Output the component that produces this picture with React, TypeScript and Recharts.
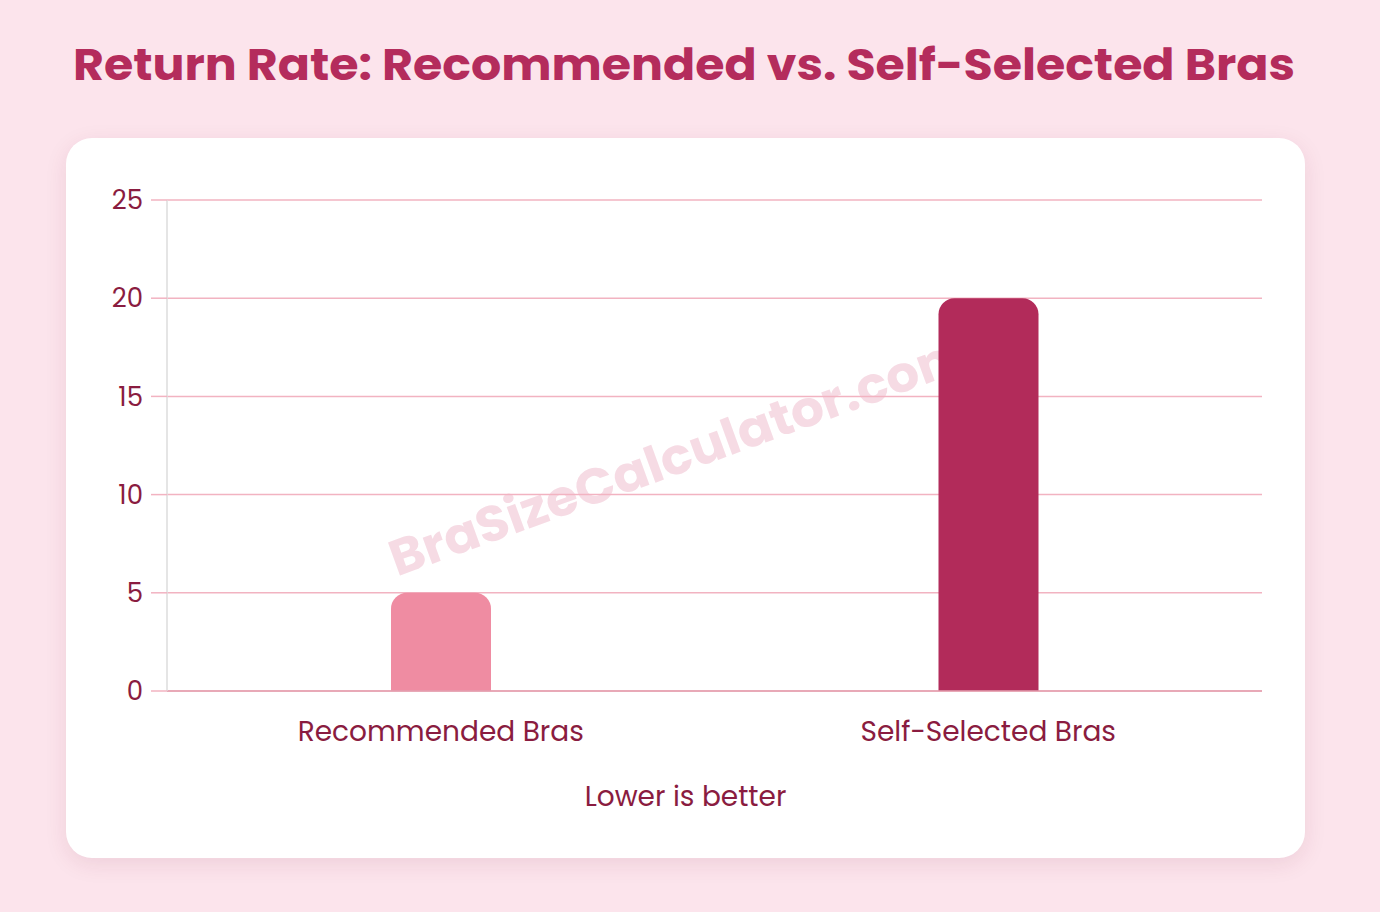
import React from "react";
import { BarChart, Bar, XAxis, YAxis, CartesianGrid, Cell, Label } from "recharts";

const categories = ["Recommended Bras", "Self-Selected Bras"];
const returnRates = [5, 20];
const yTicks = [0, 5, 10, 15, 20, 25];

const TITLE = "Return Rate: Recommended vs. Self-Selected Bras";
const X_TITLE = "Lower is better";
const WATERMARK = "BraSizeCalculator.com";

const BAR_COLORS = ["#ef8ca2", "#b22b5a"];
const FONT = "Poppins, 'Open Sans', 'Noto Sans', sans-serif";
const TEXT_COLOR = "#8a1c40";

const data = categories.map((name, i) => ({ name, value: returnRates[i] }));

export default function App() {
  return (
    <div
      style={{
        position: "absolute",
        left: 0,
        top: 0,
        width: 1380,
        height: 912,
        background: "#fce4ec",
        fontFamily: FONT,
        overflow: "hidden",
      }}
    >
      <svg width={1380} height={120} style={{ position: "absolute", left: 0, top: 0 }}>
        <text
          x={684}
          y={80}
          textAnchor="middle"
          fontSize={44}
          fontWeight={700}
          fill="#b42c5c"
          fontFamily={FONT}
          textLength={1222}
          lengthAdjust="spacingAndGlyphs"
        >
          {TITLE}
        </text>
      </svg>
      <div
        style={{
          position: "absolute",
          left: 66,
          top: 138,
          width: 1239,
          height: 720,
          background: "#ffffff",
          borderRadius: 26,
          boxShadow: "0 6px 22px rgba(120, 30, 60, 0.10)",
        }}
      >
        <svg width={1239} height={720} style={{ position: "absolute", left: 0, top: 0 }}>
          <text
            x={614}
            y={317}
            textAnchor="middle"
            dominantBaseline="central"
            fontSize={50}
            fontWeight={700}
            fill="#f6dbe4"
            fontFamily={FONT}
            textLength={615}
            lengthAdjust="spacingAndGlyphs"
            transform="rotate(-20 614 317)"
          >
            {WATERMARK}
          </text>
        </svg>
        <div style={{ position: "absolute", left: 0, top: 0 }}>
          <BarChart
            width={1239}
            height={720}
            data={data}
            margin={{ top: 62, right: 43, left: 0, bottom: 0 }}
            barCategoryGap="0%"
          >
            <CartesianGrid horizontal vertical={false} stroke="#f2b3c1" strokeWidth={1.5} />
            <XAxis
              dataKey="name"
              height={167}
              tickLine={false}
              tickSize={6}
              tickMargin={24}
              axisLine={{ stroke: "#e39faf", strokeWidth: 1.5 }}
              tick={{ fill: TEXT_COLOR, fontSize: 28, fontFamily: FONT }}
              interval={0}
            >
              <Label
                value={X_TITLE}
                position="insideBottom"
                offset={52}
                dx={-29}
                style={{ fill: TEXT_COLOR, fontSize: 28, fontFamily: FONT }}
              />
            </XAxis>
            <YAxis
              width={101}
              domain={[0, 25]}
              ticks={yTicks}
              interval={0}
              tickSize={16}
              tickMargin={8}
              tickLine={{ stroke: "#f2b3c1", strokeWidth: 1.5 }}
              axisLine={{ stroke: "#dddddd", strokeWidth: 1.5 }}
              tick={{ fill: TEXT_COLOR, fontSize: 26, fontFamily: FONT }}
            />
            <Bar dataKey="value" barSize={100} radius={[16, 16, 0, 0]} isAnimationActive={false}>
              {data.map((d, i) => (
                <Cell key={d.name} fill={BAR_COLORS[i]} />
              ))}
            </Bar>
          </BarChart>
        </div>
      </div>
    </div>
  );
}
